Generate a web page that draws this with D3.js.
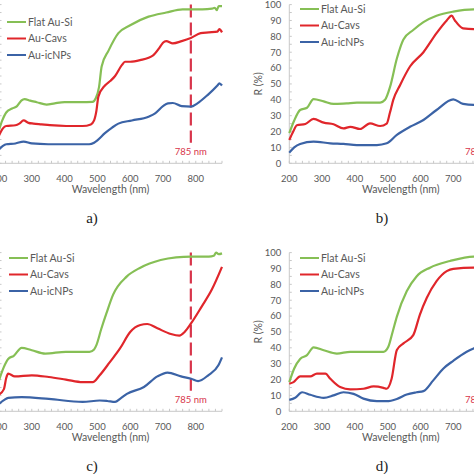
<!DOCTYPE html>
<html>
<head>
<meta charset="utf-8">
<script src="https://cdn.jsdelivr.net/npm/d3@7"></script>
<style>
  body { margin: 0; background: #fff; }
  svg { display: block; }
  text { font-family: Lato, "Open Sans", sans-serif; fill: #595959; }
</style>
</head>
<body>
<svg id="chart" width="474" height="474"></svg>
<script>
// series names shared by every panel
const seriesNames = ["Flat Au-Si", "Au-Cavs", "Au-icNPs"];
const seriesColors = ["#86bf55", "#e0262b", "#3b63a6"];
const xTicks = [200, 300, 400, 500, 600, 700, 800];
const yTicks = [0, 10, 20, 30, 40, 50, 60, 70, 80, 90, 100];
const laserLine = 785;

// [wavelength nm, R %]
const aFlat = [[200,21],[210,27],[222,32],[240,34.5],[255,36],[268,39.5],[278,40.5],[295,39.5],[315,38.5],[345,37],[370,37.8],[400,38.5],[450,38.5],[485,38.7],[495,41],[505,48],[513,61],[534,71],[564,82],[600,87],[656,92.4],[710,95],[760,97],[820,97],[850,97.5],[858,98],[864,96.5],[870,99],[880,99]];
const aCavs = [[200,17.5],[212,22],[222,23.5],[250,24],[262,25],[275,27],[290,25.5],[305,25],[330,24.5],[355,24],[405,23.5],[455,23.5],[480,24.5],[490,27],[497,33],[503,42],[523,49],[540,52],[554,55],[575,62],[584,64],[600,64],[630,65],[670,68],[690,73],[700,76],[710,77],[730,75.6],[757,77],[785,79],[815,82],[840,82.5],[866,83],[872,84.5],[880,82.5]];
const aNps = [[200,8.8],[212,11],[222,12],[250,12.5],[275,13.7],[300,12.5],[350,12],[420,12],[475,12],[490,13],[500,14.5],[523,19],[545,22.5],[564,25],[605,27],[656,29.4],[676,31.5],[700,36],[715,37.8],[730,38],[757,36],[785,35.7],[805,37.8],[836,43],[866,49],[872,50.4],[880,49]];

const bFlat = [[200,19],[215,27],[233,33.6],[254,35],[274,40.5],[305,39],[335,37.4],[375,37.8],[406,38.2],[446,38.2],[477,38.2],[492,40],[507,48],[528,66],[548,78],[578,84],[609,89],[649,93],[700,95.6],[762,97],[800,97]];
const bCavs = [[200,14.7],[212,20],[223,24],[249,24.8],[274,28],[305,25.6],[335,24.6],[365,22],[386,23],[416,21.6],[446,25.2],[477,23.5],[497,25],[507,32],[517,40],[538,49.4],[568,61],[609,70],[649,82],[680,90],[695,93],[705,90],[730,85],[762,84.5],[800,85]];
const bNps = [[200,6.7],[215,10],[233,12.2],[274,13.7],[325,12.6],[365,12.2],[406,11.5],[467,11.5],[497,12.6],[528,17.9],[568,23],[609,27.3],[649,33.6],[700,40.3],[730,37.4],[762,36.8],[800,37]];

const cFlat = [[200,19.5],[215,28],[228,33],[245,35],[269,40],[300,38.5],[341,36.4],[404,37.5],[476,37.5],[490,39],[497,41.7],[512,52],[528,62],[548,73.5],[590,85],[631,90.5],[693,95.3],[740,97],[786,97.5],[840,97.5],[855,98],[862,100],[870,99],[880,99.5]];
const cCavs = [[200,10.6],[215,14],[222,21],[228,23.7],[248,22],[300,22.7],[352,21.6],[404,20],[455,18.4],[486,18.4],[507,22.7],[538,31],[569,39.6],[600,50],[631,54.4],[652,55],[683,52.3],[724,48.7],[750,47.7],[766,50],[786,55.5],[818,66],[849,76.7],[880,91]];
const cNps = [[200,4.7],[215,7],[228,8.5],[269,8.9],[352,7.8],[455,5.9],[507,6.8],[530,6.5],[554,5.9],[570,8],[590,11],[642,15.3],[683,22],[714,24.4],[755,22],[786,20.5],[807,19],[838,22.7],[869,29],[880,34]];

const dFlat = [[200,18.4],[215,27],[233,33],[254,35.4],[274,40.3],[305,38.5],[345,36.4],[386,37.5],[487,37.5],[502,40.7],[515,50],[528,59.7],[558,75.6],[588,85],[629,90.5],[690,94.7],[762,97.5],[800,97.5]];
const dCavs = [[200,17.4],[213,18.4],[233,22],[264,22],[284,23.7],[310,23.7],[325,20.5],[355,15.3],[386,13.8],[426,14.2],[457,15.7],[487,14.8],[497,14.2],[512,20.5],[528,38.6],[548,42.8],[578,48],[598,60.8],[619,71.4],[649,82],[680,88.3],[700,89.8],[762,90.5],[800,90.5]];
const dNps = [[200,7.2],[218,8.5],[239,12],[264,10.4],[305,8.5],[335,10],[365,12],[396,11],[426,8],[467,6.4],[497,6.4],[528,7.8],[558,10.6],[588,12],[609,12.7],[639,19.5],[670,27],[700,31.8],[741,37.5],[762,39.6],[800,42]];

const svg = d3.select("#chart");

// left column is cropped: its y axis labels fall outside the picture
const panels = [
  { tag: "a)", series: [aFlat, aCavs, aNps], x0: -1, y0: 163.3, legX: 7, legY: 22, tagX: 92, tagY: 223, laser: true, yLabels: false },
  { tag: "b)", series: [bFlat, bCavs, bNps], x0: 289.3, y0: 163.3, legX: 300, legY: 9, tagX: 382, tagY: 223, laser: false, yLabels: true },
  { tag: "c)", series: [cFlat, cCavs, cNps], x0: -1, y0: 411.3, legX: 9, legY: 258, tagX: 92, tagY: 471, laser: true, yLabels: false },
  { tag: "d)", series: [dFlat, dCavs, dNps], x0: 289.3, y0: 411.3, legX: 300, legY: 258, tagX: 382, tagY: 471, laser: false, yLabels: true }
];

panels.forEach(drawPanel);

function drawPanel(p) {
  const x = d3.scaleLinear().domain([200, 880]).range([p.x0, p.x0 + 223]);
  const y = d3.scaleLinear().domain([0, 100]).range([p.y0, p.y0 - 158.7]);
  const g = svg.append("g");

  // axes
  g.append("line")
    .attr("x1", x(200)).attr("x2", x(880))
    .attr("y1", y(0)).attr("y2", y(0))
    .attr("stroke", "#c8c8c8").attr("stroke-width", 1);
  g.append("line")
    .attr("x1", x(200)).attr("x2", x(200))
    .attr("y1", y(0)).attr("y2", y(100))
    .attr("stroke", "#c8c8c8").attr("stroke-width", 1);

  g.selectAll(".xt")
    .data(d3.range(200, 881, 20))
    .join("line")
    .attr("x1", (d) => x(d)).attr("x2", (d) => x(d))
    .attr("y1", y(0)).attr("y2", y(0) - 2.5)
    .attr("stroke", "#c8c8c8");
  g.selectAll(".yt")
    .data(d3.range(0, 101, 5))
    .join("line")
    .attr("x1", x(200)).attr("x2", x(200) + 2.5)
    .attr("y1", (d) => y(d)).attr("y2", (d) => y(d))
    .attr("stroke", "#c8c8c8");

  g.selectAll(".xl")
    .data(xTicks.filter((d) => x(d) < 474))
    .join("text")
    .attr("x", (d) => x(d))
    .attr("y", y(0) + 19)
    .attr("text-anchor", "middle")
    .attr("font-size", 9.5)
    .text((d) => d);

  if (p.yLabels) {
    g.selectAll(".yl")
      .data(yTicks)
      .join("text")
      .attr("x", x(200) - 8)
      .attr("y", (d) => y(d) + 3.3)
      .attr("text-anchor", "end")
      .attr("font-size", 9.5)
      .text((d) => d);
    g.append("text")
      .attr("transform", `translate(${x(200) - 27},${y(50)}) rotate(-90)`)
      .attr("text-anchor", "middle")
      .attr("font-size", 10.5)
      .text("R (%)");
  }

  g.append("text")
    .attr("x", (x(200) + x(880)) / 2)
    .attr("y", y(0) + 29.5)
    .attr("text-anchor", "middle")
    .attr("font-size", 10.5)
    .text("Wavelength (nm)");

  // 785 nm excitation marker
  if (p.laser) {
    g.append("line")
      .attr("x1", x(laserLine)).attr("x2", x(laserLine))
      .attr("y1", y(100)).attr("y2", y(13))
      .attr("stroke", "#d8354b").attr("stroke-width", 2.2)
      .attr("stroke-dasharray", "13,5");
  }
  g.append("text")
    .attr("x", x(laserLine))
    .attr("y", y(0) - 8)
    .attr("text-anchor", "middle")
    .attr("font-size", 9.5)
    .style("fill", "#d8354b")
    .text(laserLine + " nm");

  // curves
  const line = d3.line()
    .x((d) => x(d[0]))
    .y((d) => y(d[1]))
    .curve(d3.curveMonotoneX);
  p.series.forEach((s, i) => {
    g.append("path")
      .datum(s)
      .attr("d", line)
      .attr("fill", "none")
      .attr("stroke", seriesColors[i])
      .attr("stroke-width", 2.2);
  });

  // legend
  seriesNames.forEach((name, i) => {
    const ly = p.legY + i * 16.5;
    g.append("line")
      .attr("x1", p.legX).attr("x2", p.legX + 19)
      .attr("y1", ly).attr("y2", ly)
      .attr("stroke", seriesColors[i]).attr("stroke-width", 2);
    g.append("text")
      .attr("x", p.legX + 21)
      .attr("y", ly + 3.6)
      .attr("font-size", 10.5)
      .text(name);
  });

  g.append("text")
    .attr("x", p.tagX)
    .attr("y", p.tagY)
    .attr("text-anchor", "middle")
    .attr("font-size", 15)
    .style("fill", "#222")
    .style("font-family", "'Liberation Serif', 'DejaVu Serif', serif")
    .text(p.tag);
}
</script>
</body>
</html>
